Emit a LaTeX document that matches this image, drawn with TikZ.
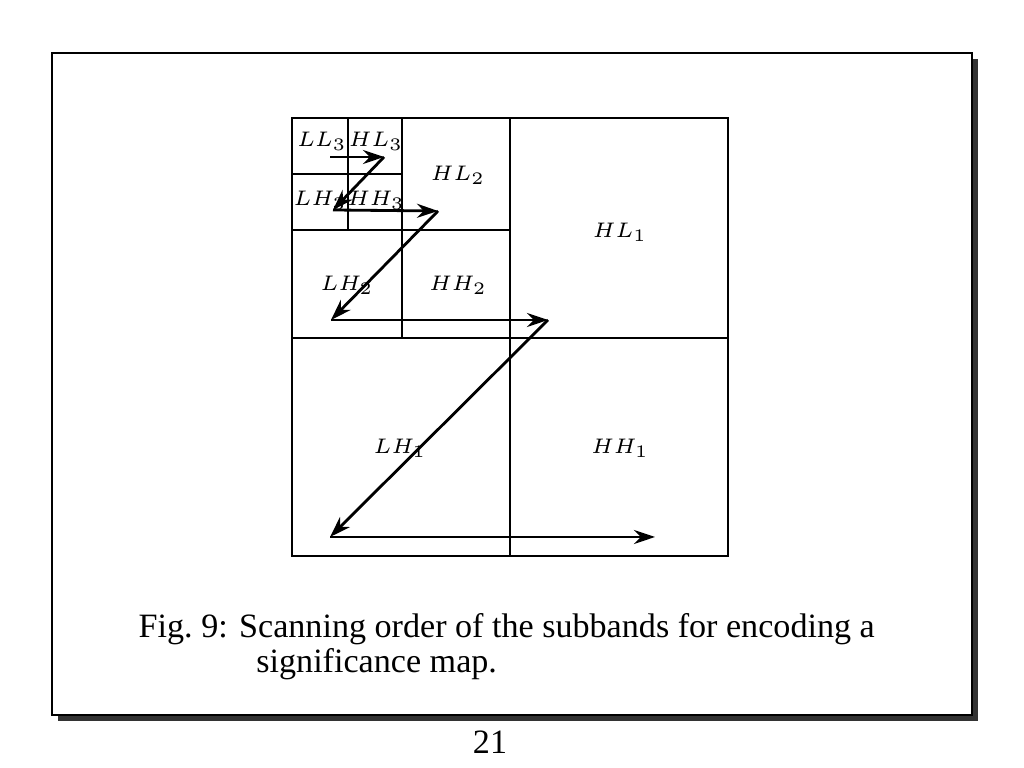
\documentclass[tikz,border=0pt]{standalone}
\usepackage{fontspec}
\setmainfont{Liberation Serif}
\usepackage{tikz}
\usetikzlibrary{arrows.meta}

\begin{document}
\begin{tikzpicture}[x=0.01cm,y=-0.01cm]
            \useasboundingbox (0,0) rectangle (1024,768);
            % frame with shadow
            \fill[black!80] (58,59) rectangle (978,721);
            \draw[fill=white,line width=0.4pt] (52,53) rectangle (972,715);

            \begin{scope}[line width=0.8pt]
                \draw (292,118) rectangle (728,556);
                \draw (510,118) -- (510,556);
                \draw (292,338) -- (728,338);
                \draw (402,118) -- (402,338);
                \draw (292,230) -- (510,230);
                \draw (348,118) -- (348,230);
                \draw (292,174) -- (402,174);
            \end{scope}

            \begin{scope}[every node/.style={font=\fontsize{6.5}{7}\selectfont}]
                \node (LL3) at (322,141) {$LL_3$};
                \node (HL3) at (376,141) {$HL_3$};
                \node (LH3) at (320,200) {$LH_3$};
                \node (HH3) at (376,200) {$HH_3$};
                \node (HL2) at (458,175) {$HL_2$};
                \node (LH2) at (347,285) {$LH_2$};
                \node (HH2) at (458,285) {$HH_2$};
                \node (HL1) at (620,232) {$HL_1$};
                \node (LH1) at (400,448) {$LH_1$};
                \node (HH1) at (620,448) {$HH_1$};
            \end{scope}

            \coordinate (s0) at (330,157);
            \coordinate (s1) at (384,157);
            \coordinate (s2) at (333,210);
            \coordinate (s3) at (438,211);
            \coordinate (s4) at (331,320);
            \coordinate (s5) at (548,320);
            \coordinate (s6) at (330,537);
            \coordinate (s7) at (655,537);

            \begin{scope}[>={Stealth[black,length=6pt,width=4pt]}, line width=0.8pt]
                \draw[->] (s0) -- (s1);
                \draw[->] (s1) -- (s2);
                \draw[->] (s2) -- (s3);
                \draw[->] (s3) -- (s4);
                \draw[->] (s4) -- (s5);
                \draw[->] (s5) -- (s6);
                \draw[->] (s6) -- (s7);
            \end{scope}

            \node[anchor=north west, align=left, inner sep=0pt,
                  font=\fontsize{9.7}{10}\selectfont] (cap) at (138,613)
                {Fig.\ 9: Scanning order of the subbands for encoding a\\[0pt]
                 \hspace*{3.45em}significance map.};
            \node[font=\fontsize{9.7}{10}\selectfont] (page) at (490,742) {21};
\end{tikzpicture}
\end{document}
